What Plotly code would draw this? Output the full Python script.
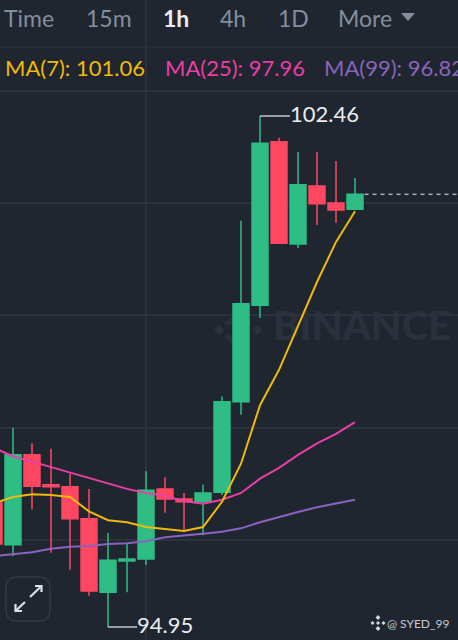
import plotly.graph_objects as go

W, H = 458, 640
BG = "#1F2630"
GRID = "#2B323D"
UP = "#2EBD85"
DOWN = "#FF4761"
YEL = "#F0B90B"
PNK = "#E83FA5"
PUR = "#8A63BC"
WM = "#2A303C"

index = list(range(20))
opens = [96.80, 96.16, 97.48, 97.04, 97.01, 96.54, 95.46, 95.92, 95.95, 96.98,
         96.83, 96.79, 96.93, 98.26, 99.68, 102.08, 100.58, 101.43, 101.18, 101.09]
closes = [96.17, 97.48, 97.02, 97.01, 96.54, 95.48, 95.93, 95.95, 96.96, 96.83,
          96.79, 96.92, 98.26, 99.70, 102.06, 100.59, 101.45, 101.17, 101.08, 101.31]
highs = [96.96, 97.88, 97.65, 97.57, 97.21, 96.98, 96.33, 96.18, 97.24, 97.15,
         96.92, 97.04, 98.34, 100.92, 102.46, 102.14, 101.93, 101.93, 101.80, 101.55]
lows = [96.08, 95.99, 96.68, 96.04, 95.79, 95.41, 94.95, 95.46, 95.86, 96.63,
        96.35, 96.30, 96.89, 98.07, 99.49, 100.59, 100.52, 100.86, 100.89, 101.09]
ma7 = [96.77, 96.86, 96.90, 96.89, 96.86, 96.65, 96.52, 96.49, 96.42, 96.39,
       96.36, 96.42, 96.79, 97.35, 98.21, 98.73, 99.37, 100.02, 100.61, 101.06]
ma25 = [97.58, 97.46, 97.38, 97.30, 97.23, 97.15, 97.07, 96.98, 96.92, 96.88,
        96.80, 96.76, 96.82, 96.92, 97.13, 97.29, 97.48, 97.65, 97.79, 97.96]
ma99 = [95.99, 96.02, 96.05, 96.10, 96.13, 96.14, 96.17, 96.18, 96.21, 96.27,
        96.29, 96.32, 96.35, 96.40, 96.49, 96.57, 96.64, 96.71, 96.77, 96.82]
grid_prices = [102.835, 101.18, 99.535, 97.88, 96.23]
x_range = [0.316, 24.42]
y_range = [94.759, 104.165]
tabs = ["Time", "15m", "1h", "4h", "1D", "More"]
ma_labels = ["MA(7): 101.06", "MA(25): 97.96", "MA(99): 96.82"]
high_label, low_label = "102.46", "94.95"
credit = "@ SYED_99"


def px(x, y):
    return x / W, 1 - y / H


def path(points, close=False):
    parts = []
    for i, (x, y) in enumerate(points):
        a, b = px(x, y)
        parts.append(("M" if i == 0 else "L") + f"{a:.5f},{b:.5f}")
    return " ".join(parts) + (" Z" if close else "")


def pshape(points, close=False, fill=None, line=None, width=0, layer="above"):
    return dict(type="path", xref="paper", yref="paper", path=path(points, close),
                fillcolor=fill, line=dict(color=line, width=width), layer=layer)


def diamond(cx, cy, r):
    return [(cx, cy - r), (cx + r, cy), (cx, cy + r), (cx - r, cy)]


def label(x, y, text, color, size, weight=400, anchor="left"):
    a, b = px(x - 3, y)
    return dict(xref="paper", yref="paper", x=a, y=b, text=text, showarrow=False,
                xanchor=anchor, yanchor="middle",
                font=dict(family="Lato", color=color, size=size, weight=weight))


fig = go.Figure()
fig.add_trace(go.Scatter(x=[19.37], y=[99.315], mode="text", text=["BINANCE"],
                         textfont=dict(family="Lato", size=40, color=WM, weight=900),
                         hoverinfo="skip"))
fig.add_trace(go.Candlestick(
    x=index, open=opens, high=highs, low=lows, close=closes, whiskerwidth=0,
    increasing=dict(line=dict(color=UP, width=1.5), fillcolor=UP),
    decreasing=dict(line=dict(color=DOWN, width=1.5), fillcolor=DOWN)))
for vals, col in [(ma99, PUR), (ma25, PNK), (ma7, YEL)]:
    fig.add_trace(go.Scatter(x=index, y=vals, mode="lines", line=dict(color=col, width=2)))

hi_i = highs.index(max(highs))
lo_i = lows.index(min(lows))
fig.add_trace(go.Scatter(x=[hi_i, hi_i + 1.58], y=[highs[hi_i]] * 2, mode="lines+text",
                         text=["", high_label], textposition="middle right",
                         line=dict(color="#EAECEF", width=1.2),
                         textfont=dict(family="Lato", size=22, color="#EAECEF")))
fig.add_trace(go.Scatter(x=[lo_i, lo_i + 1.53], y=[lows[lo_i]] * 2, mode="lines+text",
                         text=["", low_label], textposition="middle right",
                         line=dict(color="#EAECEF", width=1.2),
                         textfont=dict(family="Lato", size=22, color="#EAECEF")))
fig.add_trace(go.Scatter(x=[19.5, x_range[1]], y=[closes[-1]] * 2, mode="lines",
                         line=dict(color="#EAECEF", width=1.2, dash="4px,4px")))

shapes = [
    dict(type="rect", xref="paper", yref="paper", x0=0, x1=1, y0=1 - 47 / H, y1=1,
         fillcolor=BG, line=dict(width=0), layer="below"),
    pshape([(0, 47), (W, 47)], line=GRID, width=1.5, layer="below"),
    pshape([(401, 13), (415, 13), (408, 21)], close=True, fill="#848E9C"),
    # expand button
    dict(type="path", xref="paper", yref="paper", line=dict(color="#343A46", width=1.5),
         path=path([(16, 577), (40, 577), (45, 578), (49, 582), (50, 587), (50, 611),
                    (49, 616), (45, 620), (40, 621), (16, 621), (11, 620), (7, 616),
                    (6, 611), (6, 587), (7, 582), (11, 578)], close=True)),
    pshape([(30, 597), (41.5, 586)], line="#DDE0E3", width=2.2),
    pshape([(35, 586), (41.5, 586), (41.5, 592)], line="#DDE0E3", width=2.2),
    pshape([(25, 602), (15.5, 611)], line="#DDE0E3", width=2.2),
    pshape([(15.5, 604), (15.5, 611), (22, 611)], line="#DDE0E3", width=2.2),
]
# watermark logo
for cx, cy, r in [(219, 330, 5), (257, 330, 5), (238, 330, 6)]:
    shapes.append(pshape(diamond(cx, cy, r), close=True, fill=WM, layer="below"))
shapes.append(pshape([(238, 311), (252, 323), (247, 326), (238, 319), (229, 326), (224, 323)],
                     close=True, fill=WM, layer="below"))
shapes.append(pshape([(238, 349), (252, 337), (247, 334), (238, 341), (229, 334), (224, 337)],
                     close=True, fill=WM, layer="below"))
# footer logo
for cx, cy, r in [(372.5, 623, 2), (383.5, 623, 2), (378, 623, 2), (378, 617.5, 2.4), (378, 628.5, 2.4)]:
    shapes.append(pshape(diamond(cx, cy, r), close=True, fill="#D5D8DC"))

anns = [
    label(5, 18, tabs[0], "#848E9C", 23),
    label(87, 18, tabs[1], "#848E9C", 23),
    label(164, 18, tabs[2], "#EAECEF", 23, 700),
    label(221, 18, tabs[3], "#848E9C", 23),
    label(279, 18, tabs[4], "#848E9C", 23),
    label(339, 18, tabs[5], "#848E9C", 23),
    label(6, 68, ma_labels[0], YEL, 22),
    label(166, 68, ma_labels[1], PNK, 22),
    label(325, 68, ma_labels[2], PUR, 22),
    label(388, 623, credit, "#C5C8CC", 12),
]

fig.update_layout(
    width=W, height=H, autosize=False, showlegend=False, boxgap=0.16, boxgroupgap=0,
    margin=dict(l=0, r=0, t=0, b=0), paper_bgcolor=BG, plot_bgcolor=BG,
    shapes=shapes, annotations=anns,
    xaxis=dict(range=x_range, rangeslider=dict(visible=False), tickmode="array", tickvals=[8],
               ticks="", showticklabels=False, showgrid=True, gridcolor=GRID, gridwidth=1.5,
               zeroline=False, showline=False),
    yaxis=dict(range=y_range, tickmode="array", tickvals=grid_prices, ticks="",
               showticklabels=False, showgrid=True, gridcolor=GRID, gridwidth=1.5,
               zeroline=False, showline=False),
)
fig.write_html("out.html", config=dict(displayModeBar=False),
               post_script="document.body.style.margin='0';document.body.style.overflow='hidden';document.body.style.background='#1F2630';")
